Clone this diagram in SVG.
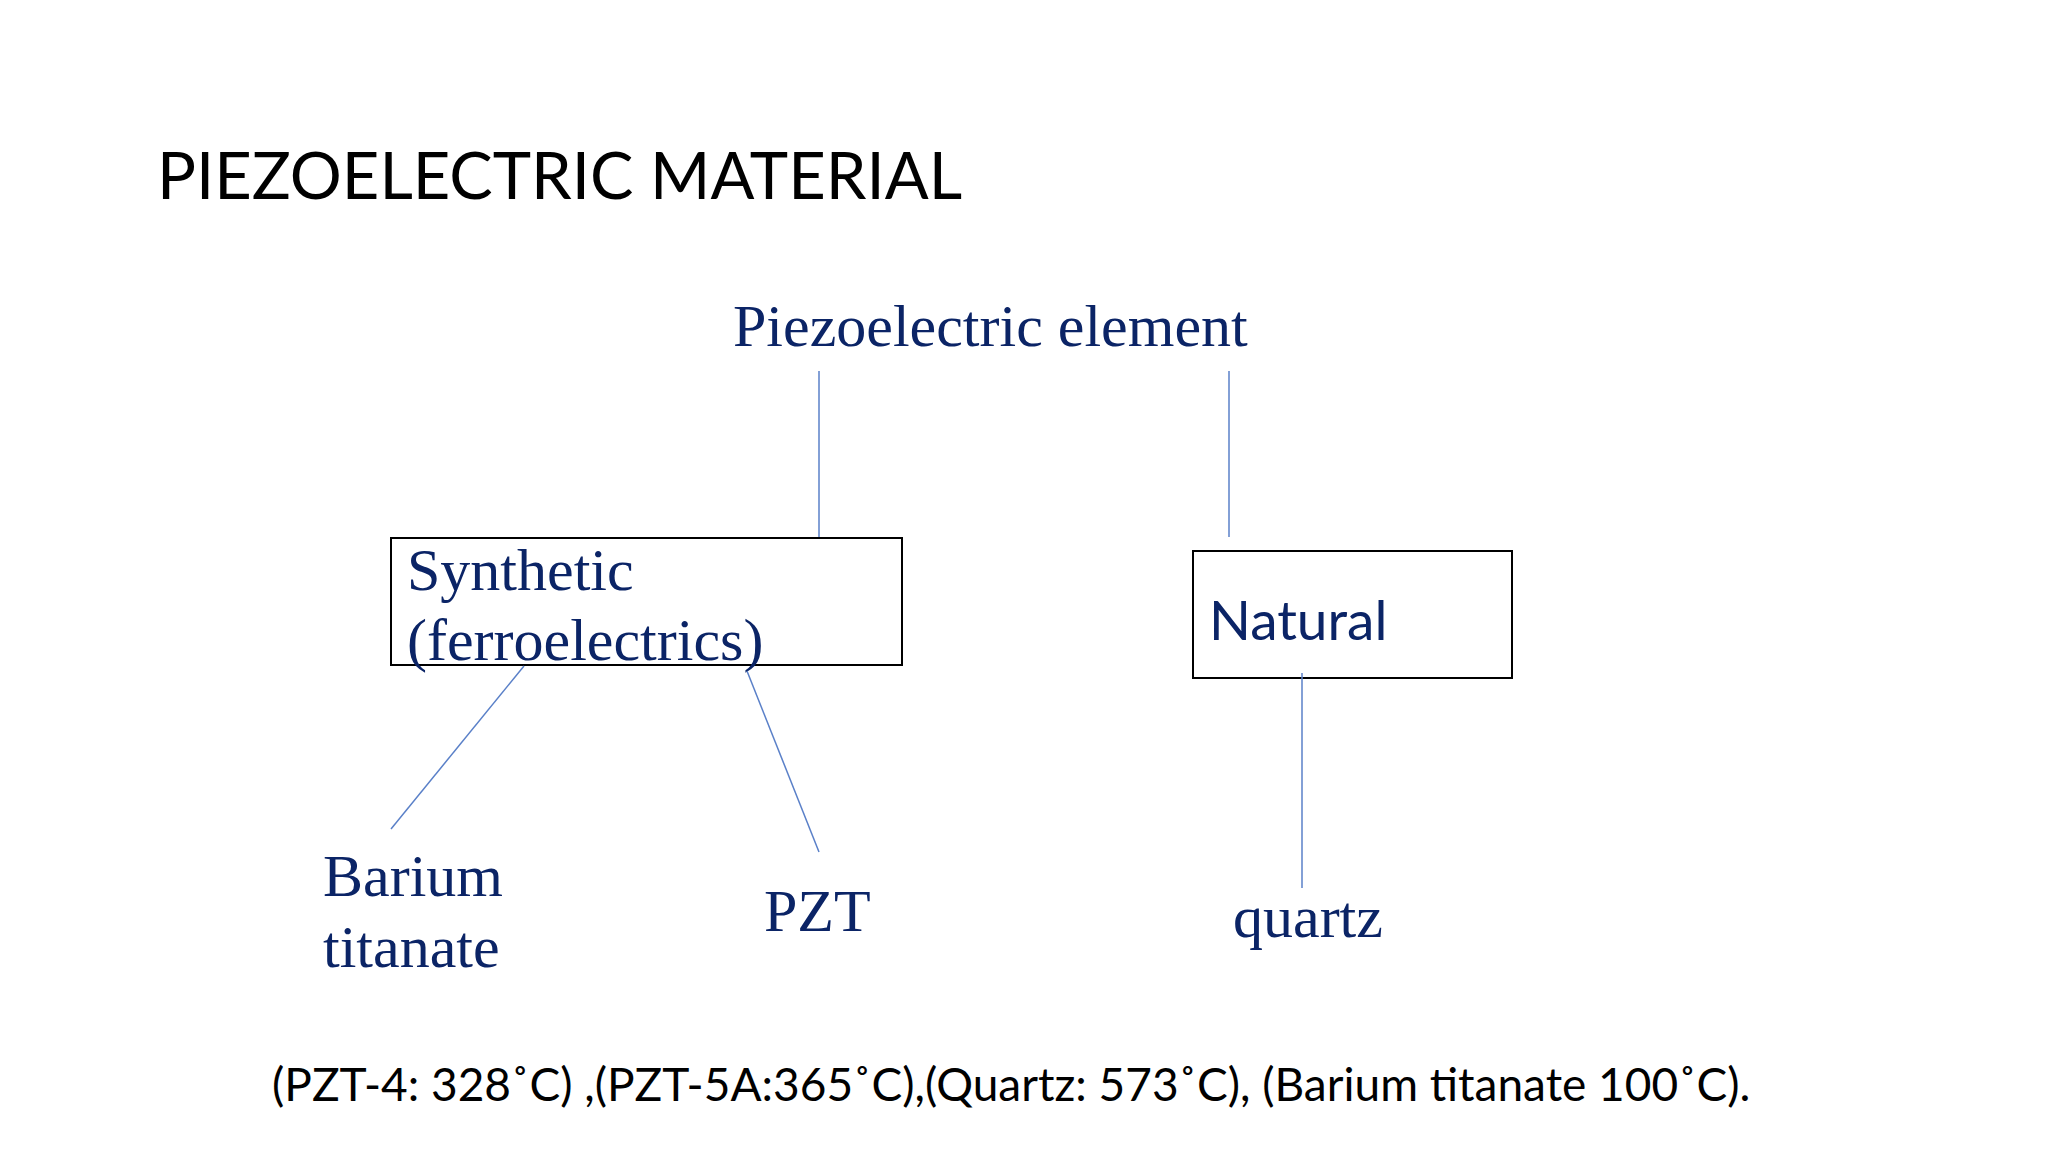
<svg xmlns="http://www.w3.org/2000/svg" width="2048" height="1152" viewBox="0 0 2048 1152">
<style>
.sans{font-family:Lato,"Liberation Sans",sans-serif}
.serif{font-family:"Liberation Serif","Times New Roman",serif;font-size:60px}
.blue{fill:#0b2466}
.box{fill:none;stroke:#000;stroke-width:2}
.conn{stroke:#5a80c8;stroke-width:1.5;fill:none}
</style>
<rect width="2048" height="1152" fill="#fff"/>
<text id="title" class="sans" x="157" y="199" font-size="65" fill="#000">PIEZOELECTRIC MATERIAL</text>
<g id="root"><text class="serif blue" x="733" y="346">Piezoelectric element</text></g>
<g id="synthetic">
<rect class="box" x="391" y="538" width="511" height="127"/>
<text class="serif blue" x="407" y="590">Synthetic</text>
<text class="serif blue" x="407" y="660">(ferroelectrics)</text>
</g>
<g id="natural">
<rect class="box" x="1193" y="551" width="319" height="127"/>
<text class="sans blue" x="1209" y="640" font-size="55">Natural</text>
</g>
<g id="barium"><text class="serif blue" x="323" y="896">Barium</text><text class="serif blue" x="323" y="967">titanate</text></g>
<g id="pzt"><text class="serif blue" x="764" y="931">PZT</text></g>
<g id="quartz"><text class="serif blue" x="1233" y="937">quartz</text></g>
<g id="connectors">
<line class="conn" x1="819" y1="371" x2="819" y2="537"/>
<line class="conn" x1="1229" y1="371" x2="1229" y2="537"/>
<line class="conn" x1="524" y1="666" x2="391" y2="829"/>
<line class="conn" x1="747" y1="671" x2="819" y2="852"/>
<line class="conn" x1="1302" y1="673" x2="1302" y2="888"/>
</g>
<text id="note" class="sans" x="272" y="1101" font-size="46" fill="#000">(PZT-4: 328˚C) ,(PZT-5A:365˚C),(Quartz: 573˚C), (Barium titanate 100˚C).</text>
</svg>
